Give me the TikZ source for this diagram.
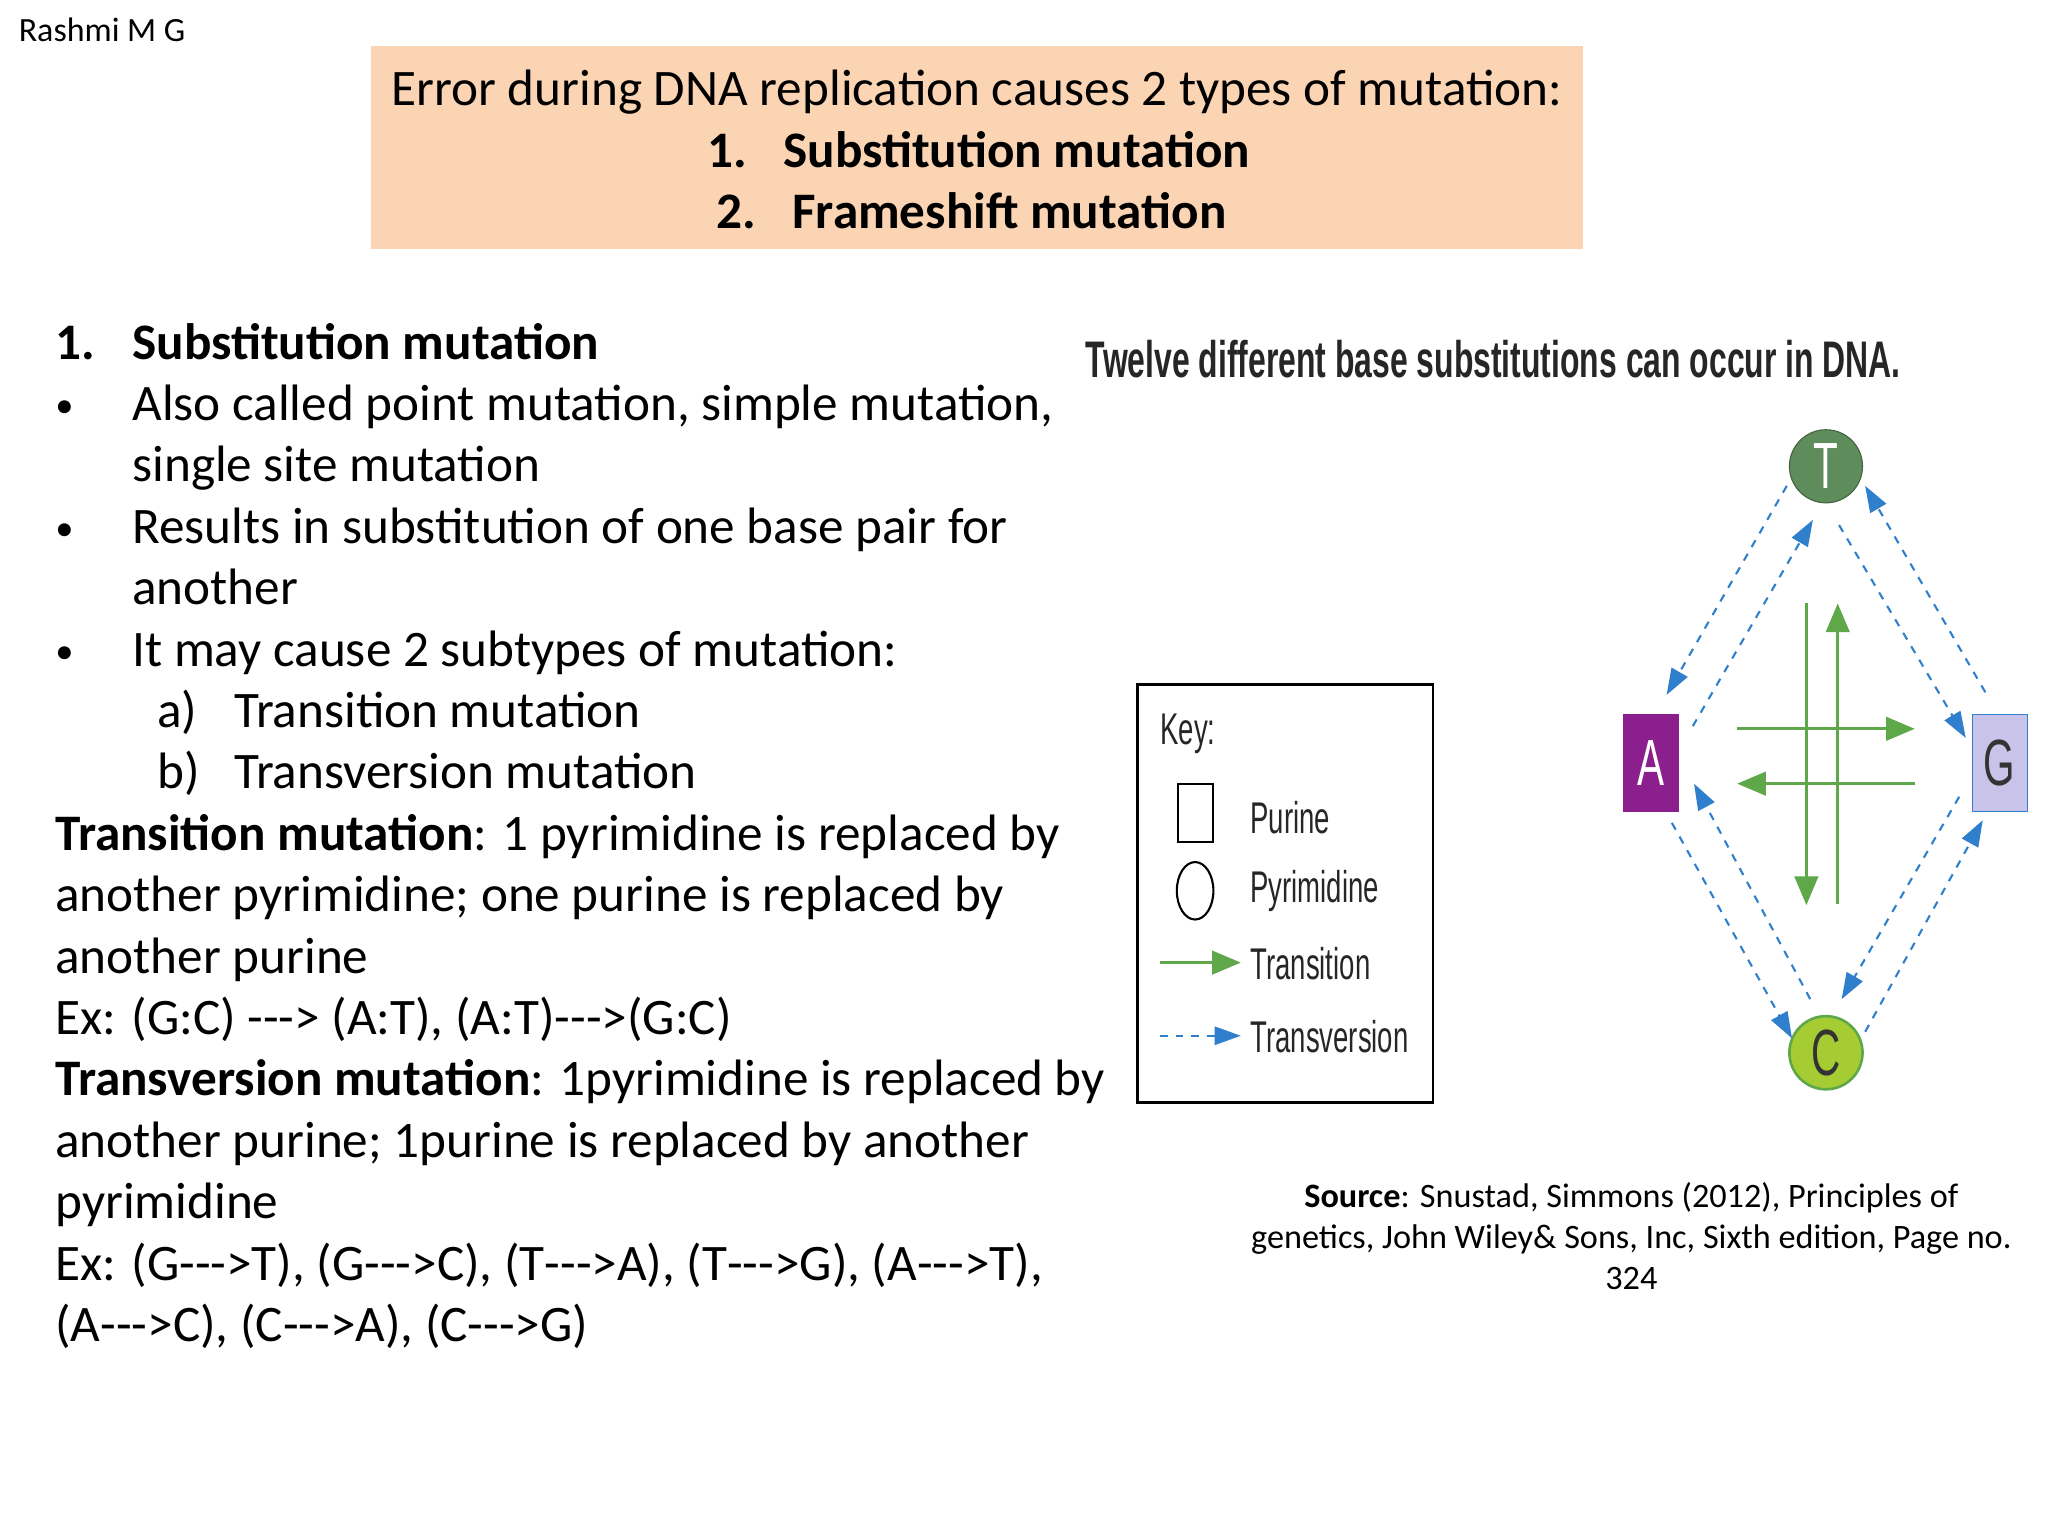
\documentclass[tikz,border=0pt]{standalone}
\usepackage{fontspec}
\setmainfont{Carlito}
\newfontfamily\narrowfont[FakeStretch=0.62]{Liberation Sans}
\usetikzlibrary{arrows.meta}
\newcommand\hy{\mbox{-}}
\definecolor{peach}{HTML}{FBD4B4}
\definecolor{tgreen}{HTML}{5E8C5A}
\definecolor{apurple}{HTML}{8B1F8E}
\definecolor{glav}{HTML}{C9C3EA}
\definecolor{cyell}{HTML}{A6CC33}
\definecolor{trgreen}{HTML}{5FA84A}
\definecolor{tvblue}{HTML}{2F7FCC}
\tikzset{
 body/.style={anchor=base west,inner sep=0pt,font=\fontsize{19.6}{23}\selectfont},
 bul/.style={anchor=base west,inner sep=0pt,font=\fontsize{14}{23}\selectfont},
 head/.style={anchor=base,inner sep=0pt,font=\fontsize{19.6}{23}\selectfont},
 keytxt/.style={anchor=west,inner sep=0pt,font=\narrowfont\fontsize{17}{20}\selectfont,text=black!85},
 trans/.style={trgreen,line width=1.1pt,-{Triangle[length=11pt,width=9pt]}},
 tvers/.style={tvblue,line width=0.8pt,dash pattern=on 3pt off 3pt,-{Triangle[length=10pt,width=7pt]}},
 base/.style={text=white,font=\narrowfont\fontsize{25}{25}\selectfont,inner sep=0pt},
}
\begin{document}
\begin{tikzpicture}[x=0.5pt,y=-0.5pt]
\useasboundingbox (0,0) rectangle (1568,1176);
\fill[white] (0,0) rectangle (1568,1176);
\node[anchor=base west,inner sep=0pt,font=\fontsize{13}{15}\selectfont] (auth) at (14,32) {Rashmi M G};
\fill[peach] (284,35) rectangle (1212,191);
\node[head] (h1) at (748,81) {Error during DNA replication causes 2 types of mutation:};
\node[anchor=base west,inner sep=0pt,font=\bfseries\fontsize{19.6}{23}\selectfont] (h2) at (541,128) {1.\hspace{14pt}Substitution mutation};
\node[anchor=base west,inner sep=0pt,font=\bfseries\fontsize{19.6}{23}\selectfont] (h3) at (548,175) {2.\hspace{14pt}Frameshift mutation};
% left text
\node[body,font=\bfseries\fontsize{19.6}{23}\selectfont] (l1) at (42,275) {1.};
\node[body,font=\bfseries\fontsize{19.6}{23}\selectfont] (l1b) at (101,275) {Substitution mutation};
\node[bul] (b1) at (42,320) {\textbullet};
\node[body] (l2) at (101,322) {Also called point mutation, simple mutation,};
\node[body] (l3) at (101,369) {single site mutation};
\node[bul] (b2) at (42,414) {\textbullet};
\node[body] (l4) at (101,416) {Results in substitution of one base pair for};
\node[body] (l5) at (101,463) {another};
\node[bul] (b3) at (42,508) {\textbullet};
\node[body] (l6) at (101,510) {It may cause 2 subtypes of mutation:};
\node[body] (l7) at (120,557) {a)};
\node[body] (l7b) at (179,557) {Transition mutation};
\node[body] (l8) at (120,604) {b)};
\node[body] (l8b) at (179,604) {Transversion mutation};
\node[body] (l9) at (42,651) {\textbf{Transition mutation}: 1 pyrimidine is replaced by};
\node[body] (l10) at (42,698) {another pyrimidine; one purine is replaced by};
\node[body] (l11) at (42,745) {another purine};
\node[body] (l12) at (42,792) {Ex: (G:C) \hy\hy\hy> (A:T), (A:T)\hy\hy\hy>(G:C)};
\node[body] (l13) at (42,839) {\textbf{Transversion mutation}: 1pyrimidine is replaced by};
\node[body] (l14) at (42,886) {another purine; 1purine is replaced by another};
\node[body] (l15) at (42,933) {pyrimidine};
\node[body] (l16) at (42,980) {Ex: (G\hy\hy\hy>T), (G\hy\hy\hy>C), (T\hy\hy\hy>A), (T\hy\hy\hy>G), (A\hy\hy\hy>T),};
\node[body] (l17) at (42,1027) {(A\hy\hy\hy>C), (C\hy\hy\hy>A), (C\hy\hy\hy>G)};
% diagram title
\node[anchor=west,inner sep=0pt,font=\narrowfont\bfseries\fontsize{19.7}{22}\selectfont,text=black!85] (dt) at (831,275) {Twelve different base substitutions can occur in DNA.};
% key
\draw[line width=0.9pt] (871,524) rectangle (1097,844);
\node[keytxt] (key) at (888,562) {Key:};
\draw[line width=0.8pt] (902,600) rectangle (929,645);
\node[keytxt] (kp) at (957,626) {Purine};
\draw[line width=0.8pt] (915,682) ellipse (14 and 22);
\node[keytxt] (ky) at (957,682) {Pyrimidine};
\coordinate (k1a) at (888,737); \coordinate (k1b) at (950,737);
\draw[trans] (k1a) -- (k1b);
\node[keytxt] (kt) at (957,738) {Transition};
\coordinate (k2a) at (888,793); \coordinate (k2b) at (950,793);
\draw[tvers] (k2a) -- (k2b);
\node[keytxt] (kv) at (957,794) {Transversion};
% bases
\node[base,draw=tgreen!70!black,fill=tgreen,circle,minimum size=28pt] (T) at (1398,357) {T};
\node[base,draw=apurple,fill=apurple,minimum width=21pt,minimum height=37pt] (A) at (1264,584) {A};
\node[base,draw=tvblue,fill=glav,text=black!80,minimum width=21pt,minimum height=37pt] (G) at (1531,584) {G};
\node[base,draw=trgreen,line width=1pt,fill=cyell,text=black!80,circle,minimum size=28pt] (C) at (1398,806) {C};
% transitions
\draw[trans] (1407,692) -- (1407,462);
\draw[trans] (1383,462) -- (1383,693);
\draw[trans] (1330,558) -- (1466,558);
\draw[trans] (1466,600) -- (1330,600);
% transversions
\draw[tvers] (1368,372) -- (1276,532);
\draw[tvers] (1296,556) -- (1388,398);
\draw[tvers] (1520,530) -- (1428,372);
\draw[tvers] (1408,402) -- (1505,565);
\draw[tvers] (1386,765) -- (1297,600);
\draw[tvers] (1280,630) -- (1372,795);
\draw[tvers] (1500,610) -- (1410,765);
\draw[tvers] (1428,790) -- (1518,628);
% source
\node[anchor=north,inner sep=0pt,align=center,font=\fontsize{13.1}{15.7}\selectfont] (src) at (1249,905) {\textbf{Source}: Snustad, Simmons (2012), Principles of\\genetics, John Wiley\& Sons, Inc, Sixth edition, Page no.\\324};
\end{tikzpicture}
\end{document}
